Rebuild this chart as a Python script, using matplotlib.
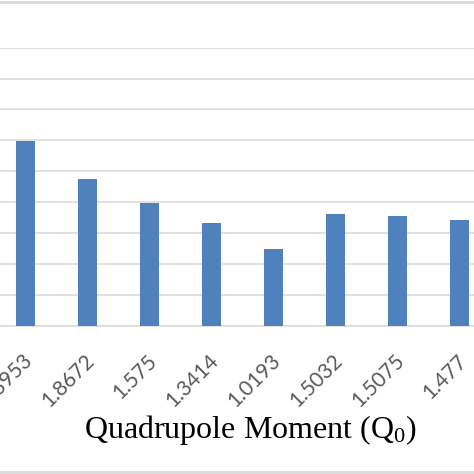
import numpy as np
import matplotlib
matplotlib.use("Agg")
import matplotlib.pyplot as plt
from matplotlib.lines import Line2D
from matplotlib.transforms import ScaledTranslation

# Values (y axis units = one gridline step)
q0_labels = ["2.3953", "1.8672", "1.575", "1.3414", "1.0193",
             "1.5032", "1.5075", "1.477", "1.4616"]
bar_heights = [5.97, 4.76, 3.96, 3.31, 2.48, 3.60, 3.56, 3.42, 3.40]

W = H = 474
fig = plt.figure(figsize=(W / 100, H / 100), dpi=100)

# plot area runs past the right edge of the crop (one more category off-picture)
step_px = 62.0
ax_w_px = W + step_px
base_px = 325.7
top_px = 47.7
ax = fig.add_axes([0, (H - base_px) / H, ax_w_px / W, (base_px - top_px) / H])

x = np.arange(len(q0_labels))
ax.bar(x, bar_heights, width=0.31, color="#4f81bd", zorder=3)

ax.set_xlim(-25.5 / step_px, -25.5 / step_px + ax_w_px / step_px)
ax.set_ylim(0, 9)
ax.set_yticks(np.arange(0, 10, 1))
ax.yaxis.grid(True, color="#d9d9d9", linewidth=1.1, zorder=0)
ax.tick_params(axis="y", left=False, labelleft=False)

for s in ["top", "right", "left"]:
    ax.spines[s].set_visible(False)
ax.spines["bottom"].set_color("#d9d9d9")
ax.spines["bottom"].set_linewidth(1.1)

ax.set_xticks(x)
ax.set_xticklabels(q0_labels, rotation=45, ha="right", va="center",
                   rotation_mode="anchor", fontsize=15, color="#595959",
                   family="Lato")
ax.tick_params(axis="x", length=0, pad=23)
offset = ScaledTranslation(4 / 100, 0, fig.dpi_scale_trans)
for lab in ax.get_xticklabels():
    lab.set_transform(lab.get_transform() + offset)

ax.set_xlabel("Quadrupole Moment (Q$\\mathregular{_0}$)",
              family="Liberation Serif", fontsize=23, color="black")
ax.xaxis.set_label_coords(250 / W, 1 - 413 / H, transform=fig.transFigure)

# chart area border (top and bottom visible in the crop)
for yp in (2, 472):
    fig.add_artist(Line2D([0, 1], [1 - yp / H, 1 - yp / H],
                          transform=fig.transFigure, color="#d9d9d9",
                          linewidth=2))

fig.savefig("out.png", dpi=100)
